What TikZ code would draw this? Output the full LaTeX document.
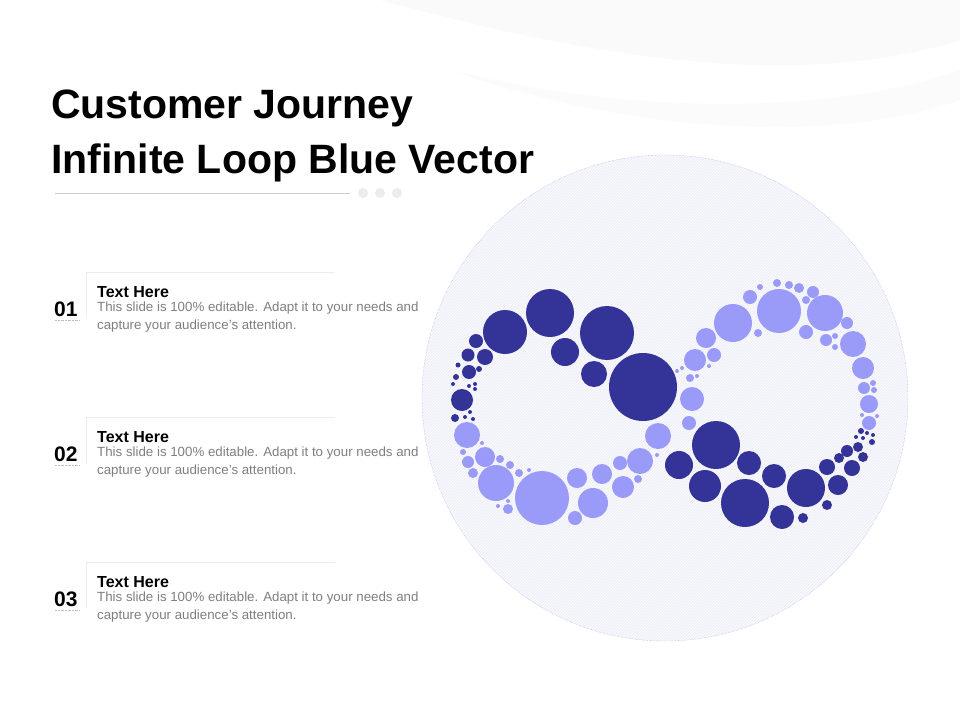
\documentclass[tikz,border=0pt]{standalone}
\usepackage{fontspec}
\setmainfont{Liberation Sans}
\usetikzlibrary{patterns}
\definecolor{dk}{HTML}{343397}
\definecolor{lt}{HTML}{9A9AF8}
\definecolor{bg}{HTML}{EFEFF9}
\definecolor{gr}{HTML}{7F7F7F}
\begin{document}
\begin{tikzpicture}[x=1pt,y=-1pt,
  numtxt/.style={anchor=base west,font=\bfseries\fontsize{21}{22}\selectfont},
  headtxt/.style={anchor=base west,font=\bfseries\fontsize{16}{17}\selectfont},
  bodytxt/.style={anchor=north west,align=left,text=gr,inner sep=0pt,font=\fontsize{13.3}{18}\selectfont}]
\useasboundingbox (0,0) rectangle (960,720);
\fill[white] (0,0) rectangle (960,720);
% faint swooshes
\fill[gray!4] (380,0) .. controls (600,60) and (800,90) .. (960,40) -- (960,0) -- cycle;
\fill[gray!3] (450,70) .. controls (650,120) and (850,110) .. (960,70) -- (960,100) .. controls (850,140) and (650,140) .. (450,70);
% title
\node[anchor=base west,inner sep=0pt,font=\bfseries\fontsize{41}{44}\selectfont] (t1) at (51,118) {Customer Journey};
\node[anchor=base west,inner sep=0pt,font=\bfseries\fontsize{41}{44}\selectfont] (t2) at (51,173) {Infinite Loop Blue Vector};
\draw[gray!40] (55,193) -- (350,193);
\foreach \x [count=\i] in {363,380,397} \fill[gray!15] (\x,193) circle (5);
% items
\foreach \n/\dy in {01/0,02/145,03/290}{
  \draw[gray!15] (86,318+\dy) -- (86,272+\dy) -- (335,272+\dy);
  \node[numtxt,inner sep=0pt] (n\n) at (54,316+\dy) {\n};
  \draw[gray!50,densely dotted] (55,320+\dy) -- (80,320+\dy);
  \node[headtxt,inner sep=0pt] (h\n) at (97,297+\dy) {Text Here};
  \node[bodytxt] (b\n) at (97,302+\dy) {This slide is 100\% editable. Adapt it to your needs and\\capture your audience's attention.};
}
% big circle
\fill[bg] (665,398) circle (243);
\fill[pattern=north east lines,pattern color=white] (665,398) circle (243);
\draw[lt!90,densely dotted] (665,398) circle (243);
% dark dots
\foreach \x/\y/\r in {505/332/22,550/313/24,607/333/27,565/352/14,594/374/13,643/387/34,
 476/341/7,468/355/6.5,485/357/8,469/372/7,479/369/3,458/365/2.5,456/377/3,453/384/2,
 469/386/2,475/384/2,475/389/2,462/400/11,455/418/4,465/417/2,473/419/2,470/412/2,
 716/445/24,679/465/14,749/463/12,705/486/16,745/503/24,774/476/12,782/517/12,803/518/5,
 806/488/19,827/505/5,838/485/10,827/467/8,852/468/8,839/458/5,847/451/6,863/457/5,
 858/447/5,872/442/3,861/431/3,867/433/2,873/435/2,856/437/2,863/438/2}
  \fill[dk] (\x,\y) circle (\r);
% light dots
\foreach \x/\y/\r in {467/435/13,463/452/3,482/443/2,468/462/6,485/457/10,500/459/4,
 473/473/5,510/465/4,496/483/18,519/473/4,529/470/2,542/498/27,508/509/5,498/506/2,508/501/2,
 577/478/10,602/474/10,620/463/7,640/461/13,623/487/11,638/479/4,593/503/15,575/518/7,
 658/436/13,657/455/2,689/423/7,692/399/12,695/360/11,714/355/7,706/338/10,690/378/4,
 677/371/2,682/368/2,697/376/2,709/366/2,733/323/19,750/297/7,760/287/3,758/333/4,
 779/311/22,777/283/4,789/285/4,799/288/5,813/292/6,806/300/4,806/332/7,825/313/18,
 826/340/6,835/336/3,835/347/3,847/323/6,853/344/13,863/368/11,873/383/3,864/388/6,
 874/390/3,869/404/9,862/415/2,877/416/2,869/423/7}
  \fill[lt] (\x,\y) circle (\r);
\end{tikzpicture}
\end{document}
